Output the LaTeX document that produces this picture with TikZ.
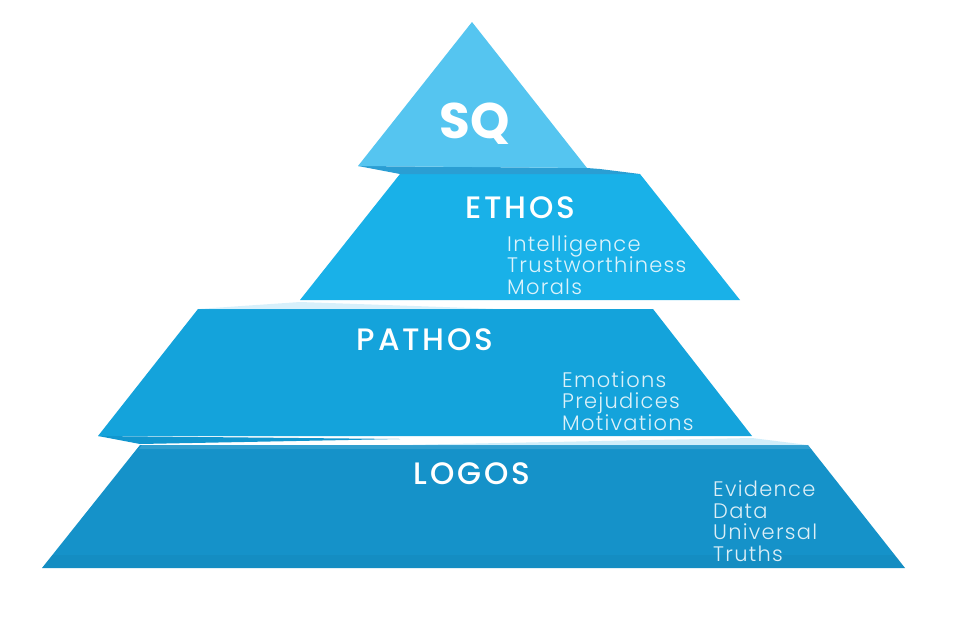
\documentclass[tikz,border=0pt]{standalone}
\usepackage{fontspec}
\setmainfont{Poppins}
\newfontfamily\lightfont{Poppins Light}[LetterSpace=6]
\newfontfamily\headfont{Poppins Medium}[LetterSpace=9]
\definecolor{sqc}{HTML}{55C5F0}
\definecolor{ethc}{HTML}{19B1E8}
\definecolor{pathc}{HTML}{14A3DB}
\definecolor{logc}{HTML}{1592C9}
\definecolor{folda}{HTML}{2A9ED3}
\definecolor{foldb}{HTML}{1196CE}
\definecolor{hilite}{HTML}{8ED6F4}
\begin{document}
\begin{tikzpicture}[x=1pt,y=-1pt,
  head/.style={text=white,anchor=base,inner sep=0pt,font=\headfont\fontsize{31}{36}\selectfont},
  sub/.style={text=white,text opacity=0.85,anchor=base west,inner sep=0pt,align=left,
    font=\lightfont\fontsize{21}{21.5}\selectfont}]
\useasboundingbox[fill=white] (0,0) rectangle (960,640);
% LOGOS
\fill[logc] (140,445) -- (808,445) -- (905,568) -- (42,568) -- cycle;
\fill[hilite,opacity=0.4] (400,445) -- (752,438) -- (808,445) -- cycle;
\fill[white,opacity=0.12] (142,445) -- (808,445) -- (811,449) -- (139,449) -- cycle;
\fill[black,opacity=0.03] (52,555) -- (895,555) -- (905,568) -- (42,568) -- cycle;
% PATHOS
\fill[pathc] (198,309) -- (653,309) -- (752,436) -- (98,436) -- cycle;
\fill[foldb] (98,436) -- (140,444) -- (400,439) -- cycle;
\fill[hilite,opacity=0.35] (198,309) -- (300,302) -- (500,309) -- cycle;
% ETHOS
\fill[ethc] (400,174) -- (640,174) -- (740,300) -- (300,300) -- cycle;
\fill[folda] (358,166) -- (400,174) -- (640,174) -- (600,169) -- (587,168) -- cycle;
% SQ
\fill[sqc] (472,22) -- (587,168) -- (358,166) -- cycle;
% texts
\node[head,font=\bfseries\fontsize{50}{60}\selectfont] (sq) at (475,138) {SQ};
\node[head] (ethos) at (520,218) {ETHOS};
\node[head] (pathos) at (425,350) {PATHOS};
\node[head] (logos) at (472,484) {LOGOS};
\node[sub] (ethsub) at (507,294) {Intelligence\\Trustworthiness\\Morals};
\node[sub] (pathsub) at (562,430) {Emotions\\Prejudices\\Motivations};
\node[sub] (logsub) at (713,561) {Evidence\\Data\\Universal\\Truths};
\end{tikzpicture}
\end{document}
